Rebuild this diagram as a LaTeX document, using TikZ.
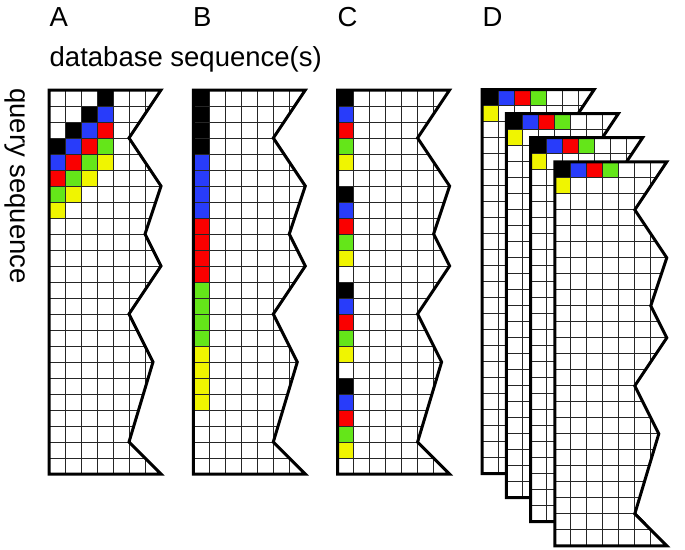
\documentclass[tikz,border=0pt]{standalone}
\usepackage{fontspec}
\setmainfont{Liberation Sans}
\definecolor{cblack}{RGB}{0,0,0}
\definecolor{cblue}{RGB}{40,60,250}
\definecolor{cred}{RGB}{250,0,0}
\definecolor{cgreen}{RGB}{100,230,25}
\definecolor{cyellow}{RGB}{240,245,0}
\newcommand{\zigpath}{(0,0) -- (7,0) -- (5,3) -- (7,6) -- (6,9) -- (7,11) -- (5,14) -- (6.5,17) -- (5,22) -- (7,24) -- (0,24) -- cycle}
% #1,#2: top-left corner in px; #3: coloured cells
\newcommand{\seqpanel}[3]{%
  \begin{scope}[shift={(#1,#2)}, x=16pt, y=-16pt]
    \fill[white] \zigpath;
    \begin{scope}
      \clip \zigpath;
      #3
      \foreach \i in {1,...,6} \draw[gridline] (\i,0) -- (\i,24);
      \foreach \j in {1,...,23} \draw[gridline] (0,\j) -- (7,\j);
    \end{scope}
    \draw[border] \zigpath;
  \end{scope}}
\begin{document}
\begin{tikzpicture}[x=1pt, y=-1pt,
  lbl/.style={font=\fontsize{27.5}{32}\selectfont, inner sep=0pt, text=black},
  gridline/.style={draw=black!85, line width=0.9pt},
  border/.style={draw=black, line width=3pt}]
\useasboundingbox (0,0) rectangle (685,549);

% labels
\node[lbl, anchor=base west] (labA) at (49.5,26) {A};
\node[lbl, anchor=base west] (labB) at (193,26) {B};
\node[lbl, anchor=base west] (labC) at (337.5,26) {C};
\node[lbl, anchor=base west] (labD) at (482.5,26) {D};
\node[lbl, anchor=base west] (dbseq) at (49.5,66.5) {database sequence(s)};
\node[lbl, rotate=-90, anchor=base west] (qseq) at (10.5,88) {query sequence};

% panel A
\seqpanel{49}{90}{%
  \foreach \c in {0,...,3}{%
    \foreach \k/\col in {0/cblack,1/cblue,2/cred,3/cgreen,4/cyellow}{%
      \fill[\col] (\c,{3-\c+\k}) rectangle ++(1,1);}}}

% panel B
\seqpanel{193.3}{90}{%
  \foreach \k/\col in {0/cblack,1/cblue,2/cred,3/cgreen,4/cyellow}{%
    \fill[\col] (0,{4*\k}) rectangle ++(1,4);}}

% panel C
\seqpanel{337.6}{90}{%
  \foreach \m in {0,...,3}{%
    \foreach \k/\col in {0/cblack,1/cblue,2/cred,3/cgreen,4/cyellow}{%
      \fill[\col] (0,{6*\m+\k}) rectangle ++(1,1);}}}

% panel D: four stacked sheets, back to front
\foreach \s in {0,...,3}{%
  \seqpanel{482.2+24.2*\s}{89.5+24.1*\s}{%
    \foreach \k/\col in {0/cblack,1/cblue,2/cred,3/cgreen}{%
      \fill[\col] (\k,0) rectangle ++(1,1);}
    \fill[cyellow] (0,1) rectangle ++(1,1);}}
\end{tikzpicture}
\end{document}
